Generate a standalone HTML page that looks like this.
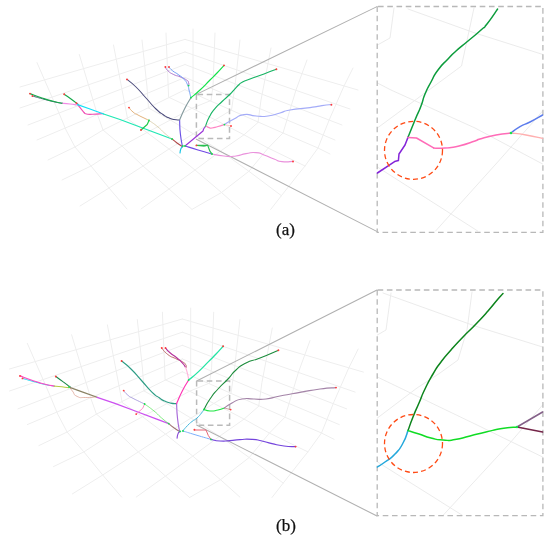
<!DOCTYPE html>
<html lang="en">
<head>
<meta charset="utf-8">
<title>Figure</title>
<style>
html,body{margin:0;padding:0;background:#fff;}
body{width:550px;height:539px;overflow:hidden;position:relative;font-family:"Liberation Serif",serif;}
svg{position:absolute;left:0;top:0;display:block;filter:blur(0.35px);}
.cap{position:absolute;font-size:17px;line-height:1;color:#111;white-space:nowrap;}
</style>
</head>
<body>
<svg width="550" height="539" viewBox="0 0 550 539" fill="none" stroke-linecap="round" stroke-linejoin="round">
<path d="M37.0,62.6 L59.3,113.8 L66.0,130.0 L75.0,147.0" stroke="#eeeeee" stroke-width="1.0" />
<path d="M79.3,54.5 L97.2,113.8 L103.0,130.0" stroke="#eeeeee" stroke-width="1.0" />
<path d="M113.5,45.0 L120.8,83.4 L127.6,119.0" stroke="#eeeeee" stroke-width="1.0" />
<path d="M142.0,40.0 L147.0,87.0 L148.5,108.0" stroke="#eeeeee" stroke-width="1.0" />
<path d="M166.0,33.0 L168.6,97.0" stroke="#eeeeee" stroke-width="1.0" />
<path d="M185.0,39.4 L20.0,87.0" stroke="#eeeeee" stroke-width="1.0" />
<path d="M185.0,52.0 L20.0,108.0" stroke="#eeeeee" stroke-width="1.0" />
<path d="M185.0,64.5 L28.0,125.0" stroke="#eeeeee" stroke-width="1.0" />
<path d="M185.0,77.4 L37.0,140.0" stroke="#eeeeee" stroke-width="1.0" />
<path d="M185.0,89.7 L103.0,130.0 L75.0,147.0 L48.0,160.0" stroke="#eeeeee" stroke-width="1.0" />
<path d="M193.0,29.0 L193.0,93.0" stroke="#eeeeee" stroke-width="1.0" />
<path d="M215.0,33.0 L213.0,86.0 L211.0,100.5" stroke="#eeeeee" stroke-width="1.0" />
<path d="M240.0,40.0 L235.0,86.0 L231.5,110.0" stroke="#eeeeee" stroke-width="1.0" />
<path d="M271.0,48.0 L261.0,100.0 L258.0,122.5" stroke="#eeeeee" stroke-width="1.0" />
<path d="M307.0,60.0 L296.0,90.0 L283.0,133.0" stroke="#eeeeee" stroke-width="1.0" />
<path d="M353.0,68.0 L344.0,86.0 L330.0,118.0 L318.0,148.0" stroke="#eeeeee" stroke-width="1.0" />
<path d="M185.0,39.4 L358.0,90.0" stroke="#eeeeee" stroke-width="1.0" />
<path d="M185.0,52.0 L350.0,109.0" stroke="#eeeeee" stroke-width="1.0" />
<path d="M185.0,64.5 L342.0,125.0" stroke="#eeeeee" stroke-width="1.0" />
<path d="M185.0,77.4 L335.0,140.0" stroke="#eeeeee" stroke-width="1.0" />
<path d="M185.0,89.7 L283.0,133.0 L318.0,148.0 L330.0,154.0" stroke="#eeeeee" stroke-width="1.0" />
<path d="M62.0,180.0 L91.0,166.0 L122.0,146.0 L147.0,132.5 L170.3,120.0 L192.0,108.2 L211.0,100.5" stroke="#eeeeee" stroke-width="1.0" />
<path d="M80.0,206.0 L109.0,188.0 L143.0,166.0 L169.0,149.0 L193.3,133.8 L215.2,119.8 L231.5,110.0" stroke="#eeeeee" stroke-width="1.0" />
<path d="M141.0,209.0 L169.0,189.0 L195.0,170.0 L220.6,151.0 L244.0,134.8 L258.0,122.5" stroke="#eeeeee" stroke-width="1.0" />
<path d="M192.0,209.4 L221.5,192.5 L248.9,171.3 L268.2,148.1 L283.0,133.0" stroke="#eeeeee" stroke-width="1.0" />
<path d="M270.7,209.4 L281.4,195.7 L298.7,173.8 L305.0,166.0 L318.0,148.0" stroke="#eeeeee" stroke-width="1.0" />
<path d="M75.0,147.0 L91.0,166.0 L109.0,188.0 L127.0,209.0" stroke="#eeeeee" stroke-width="1.0" />
<path d="M103.0,130.0 L122.0,146.0 L143.0,166.0 L169.0,189.0 L192.0,209.4" stroke="#eeeeee" stroke-width="1.0" />
<path d="M127.6,119.0 L147.0,132.5 L169.0,149.0 L195.0,170.0 L221.5,192.5 L240.0,209.0" stroke="#eeeeee" stroke-width="1.0" />
<path d="M148.5,108.0 L170.3,120.0 L193.3,133.8 L220.6,151.0 L248.9,171.3 L281.4,195.7" stroke="#eeeeee" stroke-width="1.0" />
<path d="M168.8,97.3 L192.0,108.2 L215.2,119.8 L244.0,134.8 L268.2,148.1 L305.0,166.0" stroke="#eeeeee" stroke-width="1.0" />
<path d="M27.3,343.3 L50.7,397.1 L57.7,414.1 L67.1,432.0" stroke="#eeeeee" stroke-width="1.0" />
<path d="M71.6,334.8 L90.4,397.1 L96.4,414.1" stroke="#eeeeee" stroke-width="1.0" />
<path d="M107.4,324.9 L115.1,365.2 L122.2,402.6" stroke="#eeeeee" stroke-width="1.0" />
<path d="M137.3,319.6 L142.5,369.0 L144.1,391.0" stroke="#eeeeee" stroke-width="1.0" />
<path d="M162.4,312.2 L165.1,379.5" stroke="#eeeeee" stroke-width="1.0" />
<path d="M182.3,319.0 L9.5,369.0" stroke="#eeeeee" stroke-width="1.0" />
<path d="M182.3,332.2 L9.5,391.0" stroke="#eeeeee" stroke-width="1.0" />
<path d="M182.3,345.3 L17.9,408.9" stroke="#eeeeee" stroke-width="1.0" />
<path d="M182.3,358.9 L27.3,424.6" stroke="#eeeeee" stroke-width="1.0" />
<path d="M182.3,371.8 L96.4,414.1 L67.1,432.0 L38.9,445.6" stroke="#eeeeee" stroke-width="1.0" />
<path d="M190.7,308.1 L190.7,375.2" stroke="#eeeeee" stroke-width="1.0" />
<path d="M213.7,312.2 L211.6,367.9 L209.5,383.1" stroke="#eeeeee" stroke-width="1.0" />
<path d="M239.9,319.6 L234.6,367.9 L231.0,393.1" stroke="#eeeeee" stroke-width="1.0" />
<path d="M272.3,328.0 L261.9,382.6 L258.7,406.2" stroke="#eeeeee" stroke-width="1.0" />
<path d="M310.0,340.6 L298.5,372.1 L284.9,417.2" stroke="#eeeeee" stroke-width="1.0" />
<path d="M358.2,349.0 L348.8,367.9 L334.1,401.5 L321.5,433.0" stroke="#eeeeee" stroke-width="1.0" />
<path d="M182.3,319.0 L363.4,372.1" stroke="#eeeeee" stroke-width="1.0" />
<path d="M182.3,332.2 L355.1,392.1" stroke="#eeeeee" stroke-width="1.0" />
<path d="M182.3,345.3 L346.7,408.9" stroke="#eeeeee" stroke-width="1.0" />
<path d="M182.3,358.9 L339.3,424.6" stroke="#eeeeee" stroke-width="1.0" />
<path d="M182.3,371.8 L284.9,417.2 L321.5,433.0 L334.1,439.3" stroke="#eeeeee" stroke-width="1.0" />
<path d="M53.5,466.6 L83.9,451.9 L116.3,430.9 L142.5,416.7 L166.9,403.6 L189.6,391.2 L209.5,383.1" stroke="#eeeeee" stroke-width="1.0" />
<path d="M72.4,493.9 L102.7,475.0 L138.3,451.9 L165.5,434.1 L191.0,418.1 L213.9,403.4 L231.0,393.1" stroke="#eeeeee" stroke-width="1.0" />
<path d="M136.2,497.1 L165.5,476.1 L192.8,456.1 L219.6,436.2 L244.1,419.1 L258.7,406.2" stroke="#eeeeee" stroke-width="1.0" />
<path d="M189.6,497.5 L220.5,479.7 L249.2,457.5 L269.4,433.1 L284.9,417.2" stroke="#eeeeee" stroke-width="1.0" />
<path d="M272.0,497.5 L283.2,483.1 L301.3,460.1 L307.9,451.9 L321.5,433.0" stroke="#eeeeee" stroke-width="1.0" />
<path d="M67.1,432.0 L83.9,451.9 L102.7,475.0 L121.6,497.1" stroke="#eeeeee" stroke-width="1.0" />
<path d="M96.4,414.1 L116.3,430.9 L138.3,451.9 L165.5,476.1 L189.6,497.5" stroke="#eeeeee" stroke-width="1.0" />
<path d="M122.2,402.6 L142.5,416.7 L165.5,434.1 L192.8,456.1 L220.5,479.7 L239.9,497.1" stroke="#eeeeee" stroke-width="1.0" />
<path d="M144.1,391.0 L166.9,403.6 L191.0,418.1 L219.6,436.2 L249.2,457.5 L283.2,483.1" stroke="#eeeeee" stroke-width="1.0" />
<path d="M165.3,379.8 L189.6,391.2 L213.9,403.4 L244.1,419.1 L269.4,433.1 L307.9,451.9" stroke="#eeeeee" stroke-width="1.0" />
<path d="M394.0,8.0 L390.0,38.0 L377.4,45.0" stroke="#e9e9e9" stroke-width="0.9" />
<path d="M408.0,9.0 L475.0,33.0 L542.6,54.4" stroke="#e9e9e9" stroke-width="0.9" />
<path d="M474.0,8.0 L461.5,66.0 L377.4,128.0" stroke="#e9e9e9" stroke-width="0.9" />
<path d="M377.4,83.0 L391.0,90.0 L475.0,128.0 L542.6,164.0" stroke="#e9e9e9" stroke-width="0.9" />
<path d="M377.4,167.0 L477.7,231.0" stroke="#e9e9e9" stroke-width="0.9" />
<path d="M435.6,231.0 L499.5,160.0 L534.0,121.0 L542.6,111.0" stroke="#e9e9e9" stroke-width="0.9" />
<path d="M391.0,293.0 L386.0,330.0 L377.4,335.0" stroke="#e9e9e9" stroke-width="0.9" />
<path d="M383.0,293.0 L475.0,326.0 L542.6,347.0" stroke="#e9e9e9" stroke-width="0.9" />
<path d="M472.0,292.0 L467.0,330.0 L458.0,360.0 L440.0,373.0 L417.0,388.0 L377.4,418.0" stroke="#e9e9e9" stroke-width="0.9" />
<path d="M377.4,377.0 L475.0,424.0 L542.6,457.0" stroke="#e9e9e9" stroke-width="0.9" />
<path d="M377.4,461.9 L462.5,515.4" stroke="#e9e9e9" stroke-width="0.9" />
<path d="M443.0,515.4 L509.6,443.4 L542.6,405.0" stroke="#e9e9e9" stroke-width="0.9" />
<path d="M196.4,94.4 L377.0,6.6" stroke="#b0b0b0" stroke-width="1.05" />
<path d="M196.4,139.2 L377.2,231.6" stroke="#b0b0b0" stroke-width="1.05" />
<path d="M196.4,94.4 V138.6 H229.5 V94.4 Z" stroke="#bababa" stroke-width="1.5" stroke-dasharray="5.6 3.645" stroke-linecap="butt" stroke-linejoin="miter"/>
<path d="M32.4,96.0 C36.6,97.2 37.5,97.5 45.0,99.5 C52.5,101.5 49.1,100.7 55.0,102.0 C60.9,103.3 60.1,102.9 62.7,103.3" stroke="#50607a" stroke-width="1.0" />
<path d="M30.0,93.6 C34.0,95.1 34.0,95.4 42.0,98.0 C50.0,100.6 47.1,99.7 54.0,101.5 C60.9,103.3 59.8,102.7 62.7,103.3" stroke="#16a84a" stroke-width="1.15" />
<path d="M62.7,103.3 C65.1,103.5 65.4,103.5 70.0,104.0 C74.6,104.5 74.3,104.6 76.4,104.9" stroke="#f38ae6" stroke-width="1.15" />
<path d="M64.2,94.2 C66.5,95.8 66.3,95.6 71.0,99.0 C75.7,102.4 75.8,102.7 78.2,104.5" stroke="#16a84a" stroke-width="1.15" />
<path d="M76.4,103.1 L84.3,112.8" stroke="#f050b4" stroke-width="1.15" />
<path d="M84.3,112.8 C85.0,113.2 83.7,113.5 86.5,114.0 C89.3,114.5 87.3,114.4 92.7,114.3 C98.1,114.2 99.4,113.8 102.7,113.6" stroke="#f050b4" stroke-width="1.15" />
<path d="M77.5,104.6 L90.0,109.0 L103.6,114.0" stroke="#10e0f8" stroke-width="1.15" />
<path d="M103.6,114.0 L120.0,119.5 L140.0,127.0 L160.0,134.5 L172.0,139.0" stroke="#20e8b4" stroke-width="1.25" />
<path d="M129.0,107.6 C130.3,109.1 130.0,109.5 133.0,112.0 C136.0,114.5 134.3,113.0 138.0,115.0 C141.7,117.0 140.3,116.2 144.0,118.0 C147.7,119.8 147.3,119.6 149.0,120.4" stroke="#d89850" stroke-width="0.75" />
<path d="M149.0,120.4 L147.2,124.5 L141.0,130.0" stroke="#20c84a" stroke-width="1.15" />
<path d="M149.0,120.4 C152.0,122.6 152.7,122.6 158.0,127.0 C163.3,131.4 160.3,129.5 165.0,133.5 C169.7,137.5 169.7,137.2 172.0,139.0" stroke="#d8cca8" stroke-width="0.85" />
<path d="M172.0,139.0 C173.7,140.3 173.5,140.4 177.0,143.0 C180.5,145.6 180.7,145.5 182.5,146.7" stroke="#b04848" stroke-width="1.15" />
<path d="M127.0,79.4 C130.0,81.9 129.7,80.8 136.0,87.0 C142.3,93.2 139.3,90.7 146.0,98.0 C152.7,105.3 150.3,103.5 156.0,109.0 C161.7,114.5 159.0,111.7 163.0,114.5 C167.0,117.3 164.3,115.8 168.0,117.5 C171.7,119.2 170.1,118.7 174.0,119.5 C177.9,120.3 177.7,119.8 179.6,120.0" stroke="#4c4c7c" stroke-width="1.05" />
<path d="M179.6,120.0 C179.9,124.7 179.4,125.1 180.4,134.0 C181.4,142.9 181.8,142.5 182.5,146.7" stroke="#6a50e4" stroke-width="1.15" />
<path d="M179.6,120.0 C181.4,116.0 181.2,115.5 185.0,108.0 C188.8,100.5 189.0,101.1 191.0,97.6" stroke="#849a9e" stroke-width="1.15" />
<path d="M165.4,67.1 C166.3,68.3 165.3,68.3 168.0,70.8 C170.7,73.3 169.6,72.5 173.6,74.5 C177.6,76.5 175.7,75.0 180.0,76.8 C184.3,78.6 183.6,78.0 186.5,80.0 C189.4,82.0 187.9,80.9 188.6,82.8 C189.3,84.7 188.6,84.7 188.6,85.6" stroke="#a468c8" stroke-width="0.95" />
<path d="M168.9,67.1 C170.1,68.3 169.5,68.3 172.6,70.8 C175.7,73.3 174.5,71.7 178.2,74.5 C181.9,77.3 180.7,75.7 183.8,79.1 C186.9,82.5 185.7,80.7 187.5,84.7 C189.3,88.7 188.2,87.0 189.3,91.2 C190.4,95.4 190.3,95.3 190.8,97.4" stroke="#6898f4" stroke-width="0.95" />
<path d="M191.0,97.6 C194.0,95.1 193.7,95.9 200.0,90.0 C206.3,84.1 204.3,85.7 210.0,80.0 C215.7,74.3 212.3,77.9 217.0,73.0 C221.7,68.1 221.7,67.9 224.0,65.4" stroke="#12e248" stroke-width="1.15" />
<path d="M182.5,146.7 C181.9,147.5 181.6,146.9 180.8,149.0 C180.0,151.1 180.3,151.7 180.0,153.0" stroke="#14c4e4" stroke-width="1.15" />
<path d="M185.0,146.0 L194.0,138.5 L203.0,131.0 L203.6,129.0 L205.0,127.0" stroke="#9a34d8" stroke-width="1.15" />
<path d="M205.3,126.6 C206.7,123.3 206.3,122.6 209.4,116.8 C212.5,111.0 210.3,114.3 214.5,109.2 C218.7,104.1 217.0,106.4 222.1,101.5 C227.2,96.6 225.6,98.6 229.7,94.5 C233.8,90.4 231.5,92.5 234.5,89.3 C237.5,86.1 235.9,87.4 238.6,85.0 C241.3,82.6 238.7,84.0 242.5,82.0 C246.3,80.0 242.8,81.7 250.0,79.0 C257.2,76.3 255.2,77.3 264.0,74.0 C272.8,70.7 272.3,70.8 276.4,69.2" stroke="#18b464" stroke-width="1.15" />
<path d="M206.0,126.0 C207.0,126.5 207.0,126.9 209.0,127.6 C211.0,128.3 209.0,128.4 212.0,128.0 C215.0,127.6 213.9,127.6 218.0,126.5 C222.1,125.4 222.3,125.2 224.4,124.6" stroke="#ff84c4" stroke-width="1.15" />
<path d="M224.4,124.6 L231.0,126.0" stroke="#ffb8b8" stroke-width="0.75" />
<path d="M224.4,124.6 C227.6,122.7 227.5,122.3 234.0,119.0 C240.5,115.7 236.7,115.6 244.0,114.6 C251.3,113.6 248.0,115.5 256.0,116.0 C264.0,116.5 260.0,117.0 268.0,116.0 C276.0,115.0 272.7,115.0 280.0,113.0 C287.3,111.0 280.0,111.8 290.0,110.0 C300.0,108.2 299.3,109.1 310.0,107.6 C320.7,106.1 315.0,106.6 322.0,105.6 C329.0,104.6 328.0,104.9 331.0,104.6" stroke="#a4acf8" stroke-width="1.15" />
<path d="M185.0,146.0 C189.3,147.3 189.0,147.3 198.0,150.0 C207.0,152.7 207.3,152.7 212.0,154.0" stroke="#7048e4" stroke-width="1.15" />
<path d="M196.6,145.4 L207.7,145.2 L209.9,151.2 L212.1,154.2" stroke="#28c050" stroke-width="1.15" />
<path d="M196.6,145.4 L204.4,146.5 L207.7,145.2" stroke="#28c050" stroke-width="0.75" />
<path d="M212.0,154.0 C216.0,154.7 216.0,155.3 224.0,156.0 C232.0,156.7 228.7,156.8 236.0,156.0 C243.3,155.2 239.3,154.7 246.0,153.6 C252.7,152.5 250.0,152.1 256.0,152.6 C262.0,153.1 258.0,152.9 264.0,155.0 C270.0,157.1 268.0,156.8 274.0,159.0 C280.0,161.2 275.7,160.8 282.0,161.6 C288.3,162.4 289.3,161.5 293.0,161.4" stroke="#ea92dc" stroke-width="1.15" />
<circle cx="30.0" cy="93.6" r="0.95" fill="#ff3b3b" stroke="none"/>
<circle cx="32.4" cy="96.0" r="0.95" fill="#ff3b3b" stroke="none"/>
<circle cx="64.2" cy="94.2" r="0.95" fill="#ff3b3b" stroke="none"/>
<circle cx="76.4" cy="103.1" r="0.95" fill="#ff3b3b" stroke="none"/>
<circle cx="127.0" cy="79.4" r="0.95" fill="#ff3b3b" stroke="none"/>
<circle cx="129.0" cy="107.6" r="0.95" fill="#ff3b3b" stroke="none"/>
<circle cx="141.0" cy="130.0" r="0.95" fill="#ff3b3b" stroke="none"/>
<circle cx="165.4" cy="67.0" r="0.95" fill="#ff3b3b" stroke="none"/>
<circle cx="169.0" cy="67.0" r="0.95" fill="#ff3b3b" stroke="none"/>
<circle cx="224.0" cy="65.4" r="0.95" fill="#ff3b3b" stroke="none"/>
<circle cx="276.4" cy="69.2" r="0.95" fill="#ff3b3b" stroke="none"/>
<circle cx="231.0" cy="126.0" r="0.95" fill="#ff3b3b" stroke="none"/>
<circle cx="331.4" cy="104.8" r="0.95" fill="#ff3b3b" stroke="none"/>
<circle cx="293.0" cy="161.5" r="0.95" fill="#ff3b3b" stroke="none"/>
<circle cx="196.4" cy="145.4" r="0.95" fill="#ff3b3b" stroke="none"/>
<circle cx="172.0" cy="139.0" r="0.9" fill="#18e050" stroke="none"/>
<circle cx="188.6" cy="85.6" r="0.9" fill="#18e050" stroke="none"/>
<circle cx="182.9" cy="146.0" r="0.9" fill="#18e050" stroke="none"/>
<circle cx="185.0" cy="146.0" r="0.9" fill="#18e050" stroke="none"/>
<circle cx="224.4" cy="124.6" r="0.9" fill="#18e050" stroke="none"/>
<circle cx="191.0" cy="97.6" r="0.9" fill="#18e050" stroke="none"/>
<circle cx="212.0" cy="154.0" r="0.9" fill="#18e050" stroke="none"/>
<circle cx="149.0" cy="120.4" r="0.9" fill="#18e050" stroke="none"/>
<path d="M377.2,6.5 V232.3 H542.9 V6.5 Z" stroke="#b8b8b8" stroke-width="1.3" stroke-dasharray="5.6 3.645" stroke-linecap="butt" stroke-linejoin="miter"/>
<path d="M497.6,9.0 C494.1,14.0 492.5,17.0 487.0,24.0 C481.5,31.0 487.3,24.3 481.0,30.0 C474.7,35.7 476.3,34.0 468.0,41.0 C459.7,48.0 462.7,45.0 456.0,51.0 C449.3,57.0 454.0,52.7 448.0,59.0 C442.0,65.3 443.7,62.3 438.0,70.0 C432.3,77.7 435.3,74.0 431.0,82.0 C426.7,90.0 428.3,86.0 425.0,94.0 C421.7,102.0 424.3,97.3 421.0,106.0 C417.7,114.7 419.3,109.5 415.0,120.0 C410.7,130.5 410.3,131.6 408.0,137.4" stroke="#0c9c3c" stroke-width="1.5" />
<path d="M408.0,137.4 L405.0,145.0 L399.0,154.0 L398.4,160.6 L394.6,161.6 L377.4,173.0" stroke="#8424d8" stroke-width="1.5" />
<path d="M408.0,137.4 L416.5,138.0 L433.6,147.8" stroke="#ff6cb8" stroke-width="1.5" />
<path d="M433.6,147.8 C434.4,147.9 432.2,148.1 436.0,148.2 C439.8,148.3 437.3,148.7 445.0,148.0 C452.7,147.3 449.0,148.3 459.0,146.0 C469.0,143.7 468.0,143.3 475.0,141.0 C482.0,138.7 473.0,141.0 480.0,139.0 C487.0,137.0 485.7,137.0 496.0,135.0 C506.3,133.0 506.0,133.7 511.0,133.0" stroke="#ff6cb8" stroke-width="1.5" />
<path d="M511.0,133.0 C514.0,130.9 513.7,130.3 520.0,126.6 C526.3,122.9 522.5,125.9 530.0,122.0 C537.5,118.1 538.4,117.3 542.6,115.0" stroke="#5c7cec" stroke-width="1.5" />
<path d="M511.0,133.0 C516.0,133.7 515.5,133.2 526.0,135.0 C536.5,136.8 537.1,137.3 542.6,138.4" stroke="#ffb0b0" stroke-width="1.3" />
<circle cx="511.0" cy="133.0" r="1.3" fill="#18e050" stroke="none"/>
<circle cx="413.5" cy="150.3" r="29" stroke="#ff4a14" stroke-width="1.3" stroke-dasharray="5 3.2" stroke-linecap="butt"/>
<path d="M196.6,381.0 L377.0,290.0" stroke="#b0b0b0" stroke-width="1.05" />
<path d="M196.6,425.0 L377.0,516.0" stroke="#b0b0b0" stroke-width="1.05" />
<path d="M196.6,381 V425.2 H229.6 V381 Z" stroke="#bababa" stroke-width="1.5" stroke-dasharray="5.6 3.645" stroke-linecap="butt" stroke-linejoin="miter"/>
<path d="M22.5,378.4 C26.9,379.6 27.8,380.0 35.7,382.1 C43.6,384.2 40.0,383.4 46.2,384.7 C52.4,386.0 51.6,385.6 54.2,386.1" stroke="#20d8f0" stroke-width="1.0" />
<path d="M20.0,375.9 C24.2,377.4 24.2,377.7 32.6,380.5 C40.9,383.3 37.9,382.3 45.1,384.2 C52.4,386.0 51.2,385.4 54.2,386.1" stroke="#ff48c4" stroke-width="1.15" />
<path d="M54.2,386.1 C56.8,386.3 57.1,386.2 61.9,386.8 C66.7,387.4 66.4,387.4 68.6,387.7" stroke="#b8cc44" stroke-width="1.15" />
<path d="M55.8,376.5 C58.2,378.2 58.1,377.9 62.9,381.6 C67.8,385.2 68.0,385.4 70.5,387.3" stroke="#1a8a4a" stroke-width="1.15" />
<path d="M68.6,385.9 C69.8,387.6 69.5,387.5 72.4,391.0 C75.2,394.5 72.6,394.2 77.1,396.4 C81.5,398.5 79.3,397.3 85.7,397.5 C92.0,397.7 92.6,397.1 96.1,396.9" stroke="#dca090" stroke-width="0.75" />
<path d="M69.7,387.4 L82.8,392.1 L97.1,397.3" stroke="#8a8264" stroke-width="1.15" />
<path d="M97.1,397.3 L114.2,403.1 L135.2,411.0 L156.1,418.8 L168.7,423.6" stroke="#cc50f0" stroke-width="1.25" />
<path d="M123.7,390.6 C125.1,392.1 124.7,392.6 127.9,395.2 C131.0,397.8 129.2,396.3 133.1,398.4 C136.9,400.4 135.5,399.6 139.4,401.5 C143.2,403.4 142.9,403.2 144.6,404.0" stroke="#9484d4" stroke-width="0.75" />
<path d="M144.6,404.0 L142.7,408.3 L136.2,414.1" stroke="#ff84c4" stroke-width="0.9" />
<path d="M144.6,404.0 C147.7,406.3 148.4,406.4 154.0,411.0 C159.6,415.5 156.5,413.6 161.4,417.8 C166.2,422.0 166.2,421.6 168.7,423.6" stroke="#58e458" stroke-width="0.75" />
<path d="M168.7,423.6 C170.4,425.0 170.3,425.1 173.9,427.8 C177.6,430.4 177.8,430.3 179.7,431.6" stroke="#a07474" stroke-width="1.15" />
<path d="M121.6,361.0 C124.7,363.6 124.4,362.4 131.0,369.0 C137.6,375.5 134.5,372.8 141.5,380.5 C148.4,388.2 146.0,386.3 151.9,392.1 C157.9,397.8 155.1,394.9 159.3,397.8 C163.4,400.8 160.7,399.2 164.5,401.0 C168.3,402.7 166.7,402.2 170.8,403.1 C174.8,404.0 174.7,403.4 176.6,403.6" stroke="#2c9c84" stroke-width="1.15" />
<path d="M176.6,403.6 C176.9,408.5 176.5,409.0 177.5,418.3 C178.5,427.6 178.9,427.2 179.7,431.6" stroke="#a868d8" stroke-width="1.15" />
<path d="M176.6,403.6 C178.5,399.4 178.3,398.8 182.3,391.0 C186.3,383.2 186.5,383.7 188.6,380.1" stroke="#ff34b4" stroke-width="1.15" />
<path d="M161.7,348.1 C163.7,350.2 163.2,351.0 167.8,354.5 C172.4,358.0 170.8,356.2 175.6,358.6 C180.4,361.0 179.0,359.7 182.3,361.7 C185.6,363.7 184.3,362.6 185.6,364.5 C186.9,366.4 186.0,366.4 186.2,367.3" stroke="#b45454" stroke-width="0.85" />
<path d="M165.6,348.1 C167.1,349.7 166.3,349.6 170.0,352.8 C173.7,356.0 172.6,354.5 176.7,357.8 C180.8,361.1 179.3,359.6 182.3,362.8 C185.3,366.0 184.5,365.8 185.6,367.3" stroke="#b4309c" stroke-width="1.15" />
<path d="M185.6,367.3 C186.2,369.2 186.2,368.7 187.3,372.9 C188.4,377.1 188.3,377.6 188.8,380.0" stroke="#ffb4dc" stroke-width="1.15" />
<path d="M188.6,380.1 C191.7,377.4 191.4,378.3 198.0,372.1 C204.6,365.9 202.5,367.6 208.5,361.6 C214.4,355.7 210.9,359.4 215.8,354.2 C220.7,349.1 220.7,348.9 223.1,346.3" stroke="#24e4a4" stroke-width="1.3" />
<path d="M179.7,431.6 C179.1,432.4 178.8,431.8 177.9,434.1 C177.0,436.3 177.3,436.9 177.1,438.2" stroke="#8848d8" stroke-width="1.15" />
<path d="M182.6,431.0 C184.3,429.2 184.5,428.7 187.6,425.5 C190.7,422.3 188.9,424.0 192.0,421.5 C195.1,419.0 193.8,420.8 197.0,418.0 C200.2,415.2 199.2,415.8 201.5,413.0 C203.8,410.2 203.2,410.7 204.0,409.5" stroke="#44b6dc" stroke-width="1.0" />
<path d="M204.0,409.5 C206.0,406.0 205.3,405.8 210.0,399.0 C214.7,392.2 212.0,395.7 218.0,389.0 C224.0,382.3 222.0,385.3 228.0,379.0 C234.0,372.7 230.0,375.3 236.0,370.0 C242.0,364.7 238.0,367.0 246.0,363.0 C254.0,359.0 249.3,362.2 260.0,358.0 C270.7,353.8 272.0,352.9 278.0,350.4" stroke="#1c8c3c" stroke-width="1.1" />
<path d="M204.0,409.5 C206.0,410.0 205.3,410.8 210.0,411.0 C214.7,411.2 213.2,411.0 218.0,410.0 C222.8,409.0 222.3,408.7 224.4,408.0" stroke="#20e444" stroke-width="1.15" />
<path d="M224.4,408.0 L230.6,409.6" stroke="#c08484" stroke-width="0.75" />
<path d="M224.4,408.0 C226.9,406.3 226.1,406.0 232.0,403.0 C237.9,400.0 234.7,400.3 242.0,399.0 C249.3,397.7 246.0,399.0 254.0,399.0 C262.0,399.0 257.3,400.0 266.0,399.0 C274.7,398.0 268.7,398.2 280.0,396.0 C291.3,393.8 286.7,394.7 300.0,392.4 C313.3,390.1 308.1,390.6 320.0,389.0 C331.9,387.4 330.4,388.1 335.6,387.6" stroke="#a484a8" stroke-width="1.15" />
<path d="M183.0,431.0 C187.3,432.3 186.7,432.2 196.0,435.0 C205.3,437.8 206.0,437.9 211.0,439.4" stroke="#7cb0fc" stroke-width="1.0" />
<path d="M194.4,430.0 L206.0,430.0 L208.3,435.5 L211.0,439.4" stroke="#e45468" stroke-width="0.9" />
<path d="M211.0,439.4 C214.0,439.9 213.7,440.6 220.0,441.0 C226.3,441.4 223.3,441.1 230.0,440.6 C236.7,440.1 232.7,440.0 240.0,439.6 C247.3,439.2 244.7,438.9 252.0,439.4 C259.3,439.9 255.3,439.6 262.0,441.0 C268.7,442.4 264.7,441.9 272.0,443.6 C279.3,445.3 276.1,445.0 284.0,446.0 C291.9,447.0 291.7,446.4 295.6,446.6" stroke="#7444dc" stroke-width="1.15" />
<circle cx="20.0" cy="375.9" r="0.95" fill="#ff3b3b" stroke="none"/>
<circle cx="22.5" cy="378.4" r="0.95" fill="#ff3b3b" stroke="none"/>
<circle cx="55.8" cy="376.5" r="0.95" fill="#ff3b3b" stroke="none"/>
<circle cx="121.6" cy="361.0" r="0.95" fill="#ff3b3b" stroke="none"/>
<circle cx="123.7" cy="390.6" r="0.95" fill="#ff3b3b" stroke="none"/>
<circle cx="136.2" cy="414.1" r="0.95" fill="#ff3b3b" stroke="none"/>
<circle cx="161.8" cy="348.0" r="0.95" fill="#ff3b3b" stroke="none"/>
<circle cx="165.5" cy="348.0" r="0.95" fill="#ff3b3b" stroke="none"/>
<circle cx="223.1" cy="346.3" r="0.95" fill="#ff3b3b" stroke="none"/>
<circle cx="278.4" cy="350.2" r="0.95" fill="#ff3b3b" stroke="none"/>
<circle cx="230.6" cy="409.6" r="0.95" fill="#ff3b3b" stroke="none"/>
<circle cx="336.0" cy="387.6" r="0.95" fill="#ff3b3b" stroke="none"/>
<circle cx="295.6" cy="446.6" r="0.95" fill="#ff3b3b" stroke="none"/>
<circle cx="194.4" cy="429.8" r="0.95" fill="#ff3b3b" stroke="none"/>
<circle cx="168.7" cy="423.6" r="0.9" fill="#18e050" stroke="none"/>
<circle cx="188.6" cy="380.1" r="0.9" fill="#18e050" stroke="none"/>
<circle cx="144.6" cy="404.0" r="0.9" fill="#18e050" stroke="none"/>
<circle cx="69.0" cy="387.0" r="0.9" fill="#18e050" stroke="none"/>
<circle cx="180.2" cy="431.4" r="0.9" fill="#18e050" stroke="none"/>
<circle cx="183.0" cy="431.0" r="0.9" fill="#18e050" stroke="none"/>
<circle cx="211.0" cy="439.4" r="0.9" fill="#18e050" stroke="none"/>
<circle cx="204.0" cy="409.5" r="0.9" fill="#18e050" stroke="none"/>
<path d="M377.2,290 V515.6 H542.9 V290 Z" stroke="#b8b8b8" stroke-width="1.3" stroke-dasharray="5.6 3.645" stroke-linecap="butt" stroke-linejoin="miter"/>
<path d="M503.0,293.6 C501.3,295.4 503.0,293.2 498.0,299.0 C493.0,304.8 495.3,302.7 488.0,311.0 C480.7,319.3 484.3,315.3 476.0,324.0 C467.7,332.7 471.3,328.3 463.0,337.0 C454.7,345.7 458.3,341.7 451.0,350.0 C443.7,358.3 447.0,354.0 441.0,362.0 C435.0,370.0 438.3,365.0 433.0,374.0 C427.7,383.0 429.7,379.3 425.0,389.0 C420.3,398.7 423.0,393.7 419.0,403.0 C415.0,412.3 416.7,407.8 413.0,417.0 C409.3,426.2 409.7,426.1 408.0,430.6" stroke="#0c841c" stroke-width="1.5" />
<path d="M408.0,430.6 C406.3,434.7 407.3,435.2 403.0,443.0 C398.7,450.8 401.0,447.7 395.0,454.0 C389.0,460.3 390.9,457.7 385.0,462.0 C379.1,466.3 379.9,465.3 377.4,467.0" stroke="#24a8dc" stroke-width="1.5" />
<path d="M408.0,430.6 C411.7,431.7 411.3,431.5 419.0,434.0 C426.7,436.5 423.0,436.0 431.0,438.0 C439.0,440.0 435.0,439.5 443.0,440.0 C451.0,440.5 446.0,440.9 455.0,439.6 C464.0,438.3 459.7,438.5 470.0,436.0 C480.3,433.5 475.3,434.5 486.0,432.0 C496.7,429.5 491.7,430.3 502.0,428.6 C512.3,426.9 512.0,427.5 517.0,427.0" stroke="#10dc24" stroke-width="1.5" />
<path d="M517.0,427.0 L542.6,412.0" stroke="#846088" stroke-width="1.5" />
<path d="M517.0,427.0 L542.6,432.0" stroke="#742448" stroke-width="1.5" />
<circle cx="517.0" cy="427.0" r="1.2" fill="#18e050" stroke="none"/>
<circle cx="413.5" cy="443.5" r="29" stroke="#ff4a14" stroke-width="1.3" stroke-dasharray="5 3.2" stroke-linecap="butt"/>
<text x="276" y="234.5" font-family="Liberation Serif, serif" font-size="17" fill="#111" stroke="#111" stroke-width="0.25">(a)</text>
<text x="276" y="530.8" font-family="Liberation Serif, serif" font-size="17" fill="#111" stroke="#111" stroke-width="0.25">(b)</text>
</svg>
</body>
</html>
